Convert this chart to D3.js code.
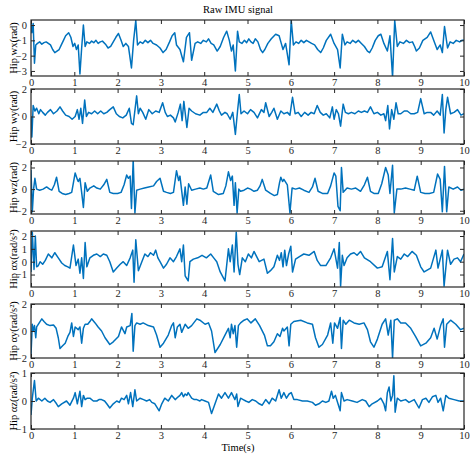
<!DOCTYPE html>
<html><head><meta charset="utf-8">
<script src="https://cdn.jsdelivr.net/npm/d3@7"></script>
<style>
body{margin:0;background:#fff}
text{font-family:"Liberation Serif","Times New Roman",serif}
</style>
</head><body>
<svg id="chart" width="474" height="459"></svg>
<script>
// ---- data (time in s, value) ----
const timeTicks = [0,1,2,3,4,5,6,7,8,9,10];
const seriesLabels = ["Hip wx(rad)","Hip wy(rad)","Hip wz(rad)","Hip \u03b1x(rad/s\u00b2)","Hip \u03b1y(rad/s\u00b2)","Hip \u03b1z(rad/s\u00b2)"];
const yTickValues = [[-3,-2,-1,0],[-2,0,2],[-2,0,2],[-1,0,1,2],[-2,0,2],[-1,0,1]];
const yLimits = [[-3.33,0.33],[-2,2],[-2.3,2.6],[-1.97,2.39],[-2,2],[-1,1]];

const hipWx = [[0,0.2],[0.02,-0.5],[0.05,0.1],[0.08,-2.5],[0.11,-1.3],[0.15,-1.2],[0.2,-1.1],[0.25,-1.25],[0.3,-1.15],[0.35,-1.1],[0.4,-1.2],[0.45,-1.3],[0.5,-1.6],[0.55,-1.8],[0.6,-1.7],[0.65,-1.6],[0.7,-1.3],[0.75,-1.0],[0.8,-0.7],[0.87,-0.5],[0.92,-0.8],[0.97,-1.4],[1.01,-1.2],[1.05,-1.6],[1.09,-1.3],[1.13,-3.2],[1.17,-1.5],[1.21,0.0],[1.25,-1.4],[1.29,-1.1],[1.35,-1.2],[1.4,-1.05],[1.45,-1.15],[1.5,-1.0],[1.55,-1.2],[1.6,-1.1],[1.65,-1.05],[1.72,-1.25],[1.78,-1.5],[1.84,-1.4],[1.9,-1.1],[1.96,-0.8],[2.02,-0.55],[2.08,-1.0],[2.13,-1.4],[2.19,-1.2],[2.25,-1.4],[2.32,-2.8],[2.37,-1.0],[2.42,0.3],[2.46,-1.3],[2.52,-1.1],[2.58,-1.2],[2.64,-1.0],[2.7,-1.15],[2.76,-1.0],[2.82,-1.2],[2.9,-1.3],[2.98,-1.5],[3.05,-1.8],[3.12,-1.6],[3.2,-1.1],[3.26,-0.7],[3.32,-0.5],[3.36,-1.3],[3.44,-1.6],[3.52,-2.4],[3.59,-0.8],[3.66,-0.5],[3.71,-2.3],[3.79,-1.2],[3.85,-1.1],[3.92,-1.2],[3.98,-1.0],[4.05,-1.1],[4.1,-0.9],[4.16,-1.2],[4.22,-1.3],[4.3,-1.7],[4.37,-1.4],[4.45,-0.8],[4.52,-0.4],[4.58,-1.0],[4.63,-1.7],[4.67,-1.3],[4.72,-3.0],[4.77,-0.4],[4.81,-1.1],[4.87,-1.2],[4.93,-1.0],[4.98,-1.15],[5.03,-0.9],[5.08,-1.1],[5.13,-1.2],[5.18,-0.9],[5.24,-1.1],[5.3,-1.6],[5.35,-1.8],[5.4,-1.6],[5.47,-1.2],[5.55,-0.9],[5.65,-0.6],[5.73,-0.7],[5.78,-1.2],[5.82,-1.6],[5.88,-1.2],[5.96,-2.6],[6.01,0.3],[6.06,-1.3],[6.12,-1.1],[6.18,-1.2],[6.24,-1.0],[6.3,-1.15],[6.36,-1.0],[6.42,-1.1],[6.48,-1.2],[6.55,-1.3],[6.62,-1.6],[6.69,-1.8],[6.75,-1.5],[6.82,-1.0],[6.92,-0.6],[7.0,-1.2],[7.08,-1.6],[7.14,-2.8],[7.19,-0.6],[7.25,-1.3],[7.3,-1.1],[7.37,-1.2],[7.43,-1.0],[7.5,-1.15],[7.56,-1.0],[7.63,-1.2],[7.7,-1.4],[7.77,-1.7],[7.82,-1.8],[7.88,-1.5],[7.95,-1.0],[8.02,-0.7],[8.08,-0.6],[8.15,-1.2],[8.23,-1.7],[8.29,-0.7],[8.35,-3.4],[8.4,0.3],[8.46,-1.4],[8.52,-1.1],[8.6,-1.2],[8.67,-1.0],[8.74,-1.15],[8.81,-1.1],[8.86,-1.4],[8.9,-1.7],[8.97,-1.5],[9.05,-1.0],[9.15,-0.8],[9.23,-0.45],[9.3,-1.0],[9.38,-1.6],[9.45,-1.3],[9.5,-1.8],[9.55,-0.1],[9.62,-1.5],[9.68,-1.1],[9.75,-1.2],[9.82,-1.0],[9.9,-1.1],[9.95,-1.0],[10,-1.0]];

const hipWy = [[0,0.0],[0.02,-1.5],[0.05,0.8],[0.09,0.4],[0.13,0.6],[0.18,0.2],[0.22,0.5],[0.27,0.3],[0.33,0.1],[0.38,0.3],[0.45,0.5],[0.52,0.2],[0.6,0.4],[0.67,0.7],[0.73,0.4],[0.8,0.1],[0.88,0.0],[0.95,-0.2],[1.02,0.0],[1.07,0.5],[1.11,-0.2],[1.15,0.6],[1.19,-0.5],[1.24,1.2],[1.28,0.0],[1.33,0.3],[1.4,0.2],[1.47,0.4],[1.54,0.2],[1.61,0.4],[1.68,0.2],[1.75,0.3],[1.82,0.5],[1.9,0.7],[1.97,0.2],[2.04,0.0],[2.12,-0.1],[2.2,0.1],[2.27,0.6],[2.32,-0.5],[2.36,-0.6],[2.44,1.5],[2.48,0.2],[2.52,0.6],[2.58,0.3],[2.65,-0.2],[2.72,0.5],[2.8,0.2],[2.88,0.4],[2.96,0.3],[3.04,1.0],[3.1,0.3],[3.15,0.0],[3.22,0.1],[3.29,-0.1],[3.33,-0.4],[3.4,0.3],[3.45,0.9],[3.49,-0.3],[3.53,1.1],[3.6,-0.8],[3.65,0.6],[3.71,0.4],[3.8,0.2],[3.9,0.1],[3.98,0.3],[4.06,0.3],[4.13,0.6],[4.2,0.3],[4.29,0.9],[4.35,0.4],[4.4,0.1],[4.48,0.3],[4.53,0.2],[4.6,-0.2],[4.66,0.3],[4.72,-1.3],[4.77,0.4],[4.81,1.6],[4.85,0.2],[4.92,0.4],[5.0,0.2],[5.07,0.5],[5.15,0.3],[5.23,-0.1],[5.32,0.5],[5.38,0.3],[5.42,1.0],[5.5,0.0],[5.56,0.3],[5.61,0.6],[5.69,-0.2],[5.77,0.4],[5.84,0.2],[5.92,0.3],[5.98,0.1],[6.04,1.4],[6.1,0.2],[6.17,0.3],[6.24,0.0],[6.32,0.3],[6.4,0.1],[6.47,0.3],[6.54,0.2],[6.61,0.8],[6.68,0.3],[6.75,0.1],[6.82,0.2],[6.9,-0.1],[6.96,0.7],[7.0,-0.2],[7.05,0.5],[7.1,0.2],[7.15,-0.7],[7.21,0.9],[7.26,0.3],[7.33,0.2],[7.4,0.3],[7.48,0.2],[7.56,0.4],[7.63,0.3],[7.7,0.4],[7.77,0.3],[7.84,0.7],[7.92,0.2],[8.0,0.3],[8.08,0.1],[8.15,0.2],[8.19,-0.3],[8.24,0.8],[8.28,-0.9],[8.33,0.5],[8.38,-0.2],[8.43,1.0],[8.48,0.2],[8.54,0.2],[8.62,0.4],[8.69,0.4],[8.77,0.2],[8.85,0.2],[8.93,0.3],[9.0,1.3],[9.08,0.2],[9.15,0.3],[9.23,0.3],[9.3,0.1],[9.38,0.4],[9.45,0.1],[9.5,1.6],[9.54,-1.2],[9.58,0.5],[9.62,1.4],[9.69,0.2],[9.77,0.3],[9.85,0.5],[9.93,0.1],[10,0.2]];

const hipWz = [[0,1.8],[0.03,-2.1],[0.06,0.0],[0.09,1.0],[0.13,0.0],[0.2,-0.1],[0.28,0.0],[0.36,0.2],[0.43,0.0],[0.48,-0.1],[0.54,0.4],[0.59,1.1],[0.65,-0.2],[0.72,-0.4],[0.8,-0.5],[0.88,-0.4],[0.94,-0.3],[1.02,1.5],[1.07,0.9],[1.09,0.7],[1.13,1.0],[1.17,-0.3],[1.21,-1.7],[1.25,0.6],[1.3,-0.2],[1.36,0.1],[1.45,0.3],[1.52,0.1],[1.6,0.0],[1.68,0.4],[1.75,0.9],[1.82,-0.3],[1.9,-0.4],[2.0,-0.4],[2.08,-0.3],[2.15,0.4],[2.21,1.3],[2.25,1.0],[2.29,1.2],[2.32,-1.8],[2.36,2.7],[2.4,-2.2],[2.44,-0.1],[2.52,0.0],[2.62,0.1],[2.72,0.2],[2.83,0.3],[2.9,0.7],[2.98,1.0],[3.06,-0.2],[3.13,-0.3],[3.22,-0.4],[3.29,-0.3],[3.36,1.7],[3.41,0.8],[3.44,1.2],[3.52,-1.5],[3.56,0.2],[3.6,-1.4],[3.64,0.5],[3.71,-0.1],[3.8,0.0],[3.9,0.1],[3.98,0.0],[4.06,0.1],[4.15,1.3],[4.21,-0.2],[4.33,-0.5],[4.44,-0.4],[4.5,0.3],[4.56,1.6],[4.61,0.8],[4.65,1.2],[4.69,-1.5],[4.72,0.6],[4.76,-2.2],[4.8,0.0],[4.84,-0.2],[4.92,-0.1],[5.0,0.1],[5.07,0.0],[5.15,-0.2],[5.23,-0.1],[5.29,0.3],[5.34,0.9],[5.42,-0.1],[5.53,-0.4],[5.62,-0.6],[5.69,-0.5],[5.74,0.6],[5.77,1.1],[5.81,0.7],[5.84,0.9],[5.92,0.4],[5.98,-2.2],[6.03,0.1],[6.11,0.0],[6.2,0.1],[6.3,-0.1],[6.42,-0.3],[6.5,0.2],[6.56,1.0],[6.63,-0.2],[6.73,-0.4],[6.85,-0.4],[6.92,0.3],[7.0,1.5],[7.04,1.2],[7.09,-1.6],[7.14,-2.0],[7.17,2.0],[7.21,-0.3],[7.3,0.1],[7.4,0.0],[7.5,0.1],[7.61,-0.2],[7.7,0.4],[7.77,1.1],[7.84,-0.2],[7.92,-0.4],[8.02,-0.4],[8.1,0.5],[8.19,2.0],[8.25,1.3],[8.29,-0.4],[8.35,2.2],[8.39,-2.2],[8.45,0.0],[8.54,0.0],[8.65,0.1],[8.75,0.0],[8.85,-0.1],[8.92,1.2],[9.0,-0.3],[9.1,-0.4],[9.2,-0.4],[9.3,-0.3],[9.39,1.4],[9.45,0.9],[9.5,-2.1],[9.55,2.1],[9.6,-2.1],[9.65,0.2],[9.75,0.0],[9.85,0.2],[9.93,-0.1],[10,0.0]];

const hipAx = [[0,-0.8],[0.03,2.3],[0.07,-0.6],[0.1,2.0],[0.13,-0.4],[0.17,-0.3],[0.21,0.0],[0.27,-0.2],[0.33,0.1],[0.4,0.6],[0.48,0.3],[0.55,0.7],[0.63,0.3],[0.71,-0.1],[0.78,-0.3],[0.85,-0.4],[0.9,-0.5],[0.98,1.3],[1.04,-0.3],[1.09,0.2],[1.13,-0.9],[1.17,0.3],[1.21,-1.3],[1.25,1.5],[1.29,-0.4],[1.36,0.3],[1.44,0.5],[1.52,0.6],[1.6,0.4],[1.67,0.6],[1.75,0.5],[1.82,0.0],[1.9,-0.8],[1.98,-0.5],[2.06,-0.2],[2.13,0.0],[2.21,-0.3],[2.29,0.3],[2.35,0.9],[2.38,-1.6],[2.42,1.7],[2.48,-0.7],[2.56,0.0],[2.63,0.6],[2.7,0.4],[2.76,0.7],[2.83,0.5],[2.88,0.9],[2.93,0.3],[2.98,0.0],[3.06,-0.5],[3.13,-0.2],[3.21,0.3],[3.29,0.0],[3.36,0.4],[3.44,1.0],[3.48,0.0],[3.52,1.3],[3.56,-1.1],[3.63,-1.5],[3.67,0.0],[3.75,0.2],[3.85,0.3],[3.95,0.5],[4.05,0.3],[4.15,0.6],[4.22,0.3],[4.29,0.0],[4.37,-0.8],[4.48,-1.5],[4.56,1.0],[4.6,0.0],[4.65,1.3],[4.69,-0.8],[4.74,2.3],[4.78,-0.2],[4.82,-1.0],[4.88,0.3],[4.95,0.0],[5.02,0.6],[5.09,0.3],[5.15,0.8],[5.27,0.0],[5.38,0.2],[5.46,-0.9],[5.53,-0.7],[5.61,-0.4],[5.69,0.5],[5.74,0.1],[5.78,0.7],[5.82,-0.4],[5.86,0.9],[5.9,-0.3],[5.95,0.6],[6.0,1.2],[6.04,-0.8],[6.11,0.2],[6.2,0.4],[6.3,0.6],[6.42,0.5],[6.54,0.8],[6.61,0.1],[6.69,-0.3],[6.81,-0.3],[6.92,0.3],[7.0,1.0],[7.08,-0.5],[7.12,1.5],[7.15,-1.9],[7.19,0.5],[7.23,-0.3],[7.3,0.3],[7.38,0.6],[7.46,0.7],[7.53,0.5],[7.61,0.8],[7.7,0.3],[7.84,0.0],[8.0,-0.5],[8.11,-0.4],[8.23,0.8],[8.29,-1.4],[8.35,1.8],[8.39,-0.8],[8.46,0.4],[8.54,0.2],[8.62,0.6],[8.7,0.4],[8.8,0.8],[8.9,0.5],[9.0,-0.4],[9.08,-0.8],[9.23,-0.5],[9.35,0.9],[9.4,-0.5],[9.5,0.9],[9.54,-1.9],[9.62,0.9],[9.69,-0.2],[9.77,0.2],[9.85,0.3],[9.92,0.0],[10,0.6]];

const hipAy = [[0,-1.8],[0.03,0.5],[0.05,0.0],[0.08,0.4],[0.11,-0.5],[0.13,0.3],[0.19,0.6],[0.25,0.9],[0.3,0.7],[0.36,0.5],[0.44,0.4],[0.52,0.45],[0.58,0.2],[0.63,-0.5],[0.67,-1.3],[0.73,-1.1],[0.79,-0.9],[0.85,-0.4],[0.9,-0.1],[0.94,0.6],[0.98,-0.4],[1.02,0.3],[1.09,0.1],[1.13,0.3],[1.17,-0.9],[1.21,0.2],[1.25,0.5],[1.31,0.5],[1.36,0.7],[1.4,0.9],[1.48,0.6],[1.55,0.3],[1.63,0.0],[1.71,-0.5],[1.82,-1.0],[1.9,-0.8],[2.02,-0.4],[2.09,0.3],[2.17,-0.2],[2.21,0.3],[2.29,0.4],[2.33,1.3],[2.36,-1.5],[2.4,0.4],[2.44,0.6],[2.52,0.5],[2.59,0.6],[2.71,0.4],[2.83,0.3],[2.9,-0.3],[2.98,-1.2],[3.06,-0.9],[3.17,-0.3],[3.25,0.4],[3.29,0.6],[3.33,-0.5],[3.38,0.3],[3.44,0.5],[3.48,-0.1],[3.56,0.5],[3.63,0.2],[3.71,0.4],[3.83,0.9],[3.9,0.8],[4.02,0.5],[4.1,0.6],[4.17,0.0],[4.25,-1.6],[4.37,-1.0],[4.48,-0.3],[4.56,0.2],[4.6,-0.5],[4.63,0.5],[4.67,-0.2],[4.71,0.4],[4.75,-1.2],[4.79,0.4],[4.84,0.6],[4.92,0.8],[4.99,0.9],[5.08,0.6],[5.18,0.9],[5.28,0.4],[5.39,-0.3],[5.46,-1.1],[5.53,-1.1],[5.61,-0.8],[5.69,-0.2],[5.75,-0.4],[5.81,0.2],[5.84,0.0],[5.92,0.3],[5.96,-1.1],[6.0,0.5],[6.07,0.7],[6.23,0.8],[6.38,0.6],[6.5,0.5],[6.57,-0.5],[6.65,-1.2],[6.73,-1.0],[6.85,-0.3],[6.92,0.6],[6.97,-0.9],[7.01,0.6],[7.08,0.2],[7.14,1.0],[7.17,-1.3],[7.21,0.8],[7.27,0.5],[7.35,0.8],[7.46,0.6],[7.58,0.5],[7.69,0.6],[7.77,0.1],[7.84,-0.8],[7.92,-1.2],[8.0,-0.6],[8.11,0.5],[8.19,0.9],[8.25,-0.3],[8.31,0.8],[8.35,-2.0],[8.39,0.8],[8.46,0.9],[8.54,0.6],[8.65,0.6],[8.77,0.2],[8.88,-0.4],[9.0,-1.1],[9.12,-0.9],[9.23,-0.5],[9.31,0.2],[9.38,-0.6],[9.46,0.4],[9.52,0.9],[9.55,-1.2],[9.6,0.5],[9.69,0.8],[9.81,0.5],[9.92,0.1],[10,0.2]];

const hipAz = [[0,-0.5],[0.03,0.1],[0.08,0.73],[0.12,0.0],[0.17,0.1],[0.25,0.0],[0.32,0.1],[0.38,0.0],[0.44,-0.05],[0.52,0.05],[0.59,-0.1],[0.63,-0.2],[0.71,-0.1],[0.82,0.0],[0.9,-0.15],[0.98,0.1],[1.02,0.3],[1.07,-0.1],[1.13,0.35],[1.17,-0.2],[1.21,0.2],[1.25,0.05],[1.3,0.1],[1.36,0.1],[1.44,0.0],[1.52,0.0],[1.57,0.05],[1.63,0.05],[1.7,0.0],[1.75,-0.1],[1.82,-0.25],[1.9,-0.1],[1.98,0.0],[2.04,-0.05],[2.09,0.1],[2.15,0.05],[2.21,0.2],[2.25,-0.1],[2.3,0.3],[2.35,-0.2],[2.4,0.4],[2.44,0.0],[2.52,0.1],[2.6,0.05],[2.67,0.0],[2.74,0.05],[2.79,-0.05],[2.86,-0.1],[2.96,-0.35],[3.02,-0.1],[3.09,0.1],[3.17,0.0],[3.25,0.2],[3.33,0.05],[3.4,0.15],[3.44,0.2],[3.48,0.3],[3.52,0.15],[3.56,0.25],[3.6,0.2],[3.63,0.3],[3.71,0.1],[3.77,0.05],[3.83,0.05],[3.9,0.0],[3.94,0.05],[4.02,0.0],[4.1,-0.05],[4.17,-0.45],[4.25,-0.1],[4.33,0.25],[4.4,0.1],[4.48,0.3],[4.56,0.1],[4.63,0.3],[4.71,0.05],[4.75,0.25],[4.78,-0.2],[4.84,0.1],[4.9,0.05],[4.96,0.0],[5.03,-0.05],[5.11,0.05],[5.19,0.0],[5.27,-0.1],[5.34,-0.15],[5.42,0.05],[5.5,-0.1],[5.57,0.1],[5.65,0.0],[5.73,0.4],[5.78,0.1],[5.84,0.3],[5.9,0.1],[5.96,0.25],[6.01,0.3],[6.07,0.05],[6.15,0.05],[6.27,0.0],[6.38,0.0],[6.5,-0.05],[6.57,-0.15],[6.65,-0.1],[6.73,0.0],[6.81,-0.05],[6.88,0.0],[6.94,0.35],[6.98,0.1],[7.03,0.2],[7.09,-0.1],[7.14,-0.35],[7.17,0.3],[7.23,0.0],[7.3,0.05],[7.42,0.0],[7.53,-0.05],[7.65,0.05],[7.73,0.0],[7.81,-0.2],[7.88,-0.1],[8.0,0.0],[8.08,0.1],[8.15,-0.1],[8.19,-0.35],[8.23,0.3],[8.27,0.5],[8.31,0.0],[8.35,0.2],[8.38,0.9],[8.41,-0.4],[8.46,0.1],[8.54,0.0],[8.65,0.05],[8.73,-0.05],[8.85,0.05],[8.96,-0.25],[9.04,0.05],[9.12,0.1],[9.19,-0.05],[9.27,0.15],[9.35,0.2],[9.4,-0.05],[9.46,0.1],[9.52,-0.35],[9.58,0.2],[9.65,0.1],[9.77,0.05],[9.89,0.0],[10,0.0]];

const allSeries = [hipWx, hipWy, hipWz, hipAx, hipAy, hipAz];

// ---- layout ----
const W = 474, H = 459;
const left = 31, right = 464;
const panelTop = [20, 89, 161, 231, 304, 373];
const panelH = [56, 55, 53, 56, 54, 56];
const axisColor = "#262626";
const lineColor = "#0072BD";
const fs = 10.5;

const svg = d3.select("#chart");
svg.append("rect").attr("width", W).attr("height", H).attr("fill", "#fff");

const x = d3.scaleLinear().domain([0, 10]).range([left, right]);

svg.append("text").attr("x", 238).attr("y", 13).attr("text-anchor", "middle")
  .attr("font-size", fs).attr("fill", "#000").text("Raw IMU signal");

allSeries.forEach((data, i) => {
  const top = panelTop[i], h = panelH[i], bottom = top + h;
  const y = d3.scaleLinear().domain(yLimits[i]).range([bottom, top]);
  const g = svg.append("g");

  const clipId = "clip" + i;
  svg.append("clipPath").attr("id", clipId).append("rect")
    .attr("x", left).attr("y", top).attr("width", right - left).attr("height", h);

  g.append("path").datum(data)
    .attr("clip-path", `url(#${clipId})`)
    .attr("fill", "none").attr("stroke", lineColor).attr("stroke-width", 1.5)
    .attr("stroke-linejoin", "round")
    .attr("d", d3.line().x(d => x(d[0])).y(d => y(d[1])));

  const styleAxis = sel => {
    sel.select(".domain").remove();
    sel.selectAll("line").attr("stroke", axisColor).attr("stroke-width", 1);
    sel.selectAll("text").attr("font-size", fs).attr("fill", axisColor)
      .attr("font-family", '"Liberation Serif","Times New Roman",serif');
  };

  g.append("g").attr("transform", `translate(${left},0)`)
    .call(d3.axisLeft(y).tickValues(yTickValues[i]).tickSize(-4).tickPadding(4).tickFormat(d3.format("d")))
    .call(styleAxis);
  g.append("g").attr("transform", `translate(${right},0)`)
    .call(d3.axisRight(y).tickValues(yTickValues[i]).tickSize(-4).tickFormat(""))
    .call(styleAxis);
  g.append("g").attr("transform", `translate(0,${bottom})`)
    .call(d3.axisBottom(x).tickValues(timeTicks).tickSize(-4).tickPadding(3).tickFormat(d3.format("d")))
    .call(styleAxis);
  g.append("g").attr("transform", `translate(0,${top})`)
    .call(d3.axisTop(x).tickValues(timeTicks).tickSize(-4).tickFormat(""))
    .call(styleAxis);

  g.append("rect").attr("x", left).attr("y", top).attr("width", right - left).attr("height", h)
    .attr("fill", "none").attr("stroke", axisColor).attr("stroke-width", 1.2);

  svg.append("text")
    .attr("transform", `translate(13,${top + h / 2}) rotate(-90)`)
    .attr("text-anchor", "middle").attr("dy", "0.35em")
    .attr("font-size", fs).attr("fill", "#000").text(seriesLabels[i]);
});

svg.append("text").attr("x", 238).attr("y", 451).attr("text-anchor", "middle")
  .attr("font-size", fs).attr("fill", "#000").text("Time(s)");
</script>
</body></html>
